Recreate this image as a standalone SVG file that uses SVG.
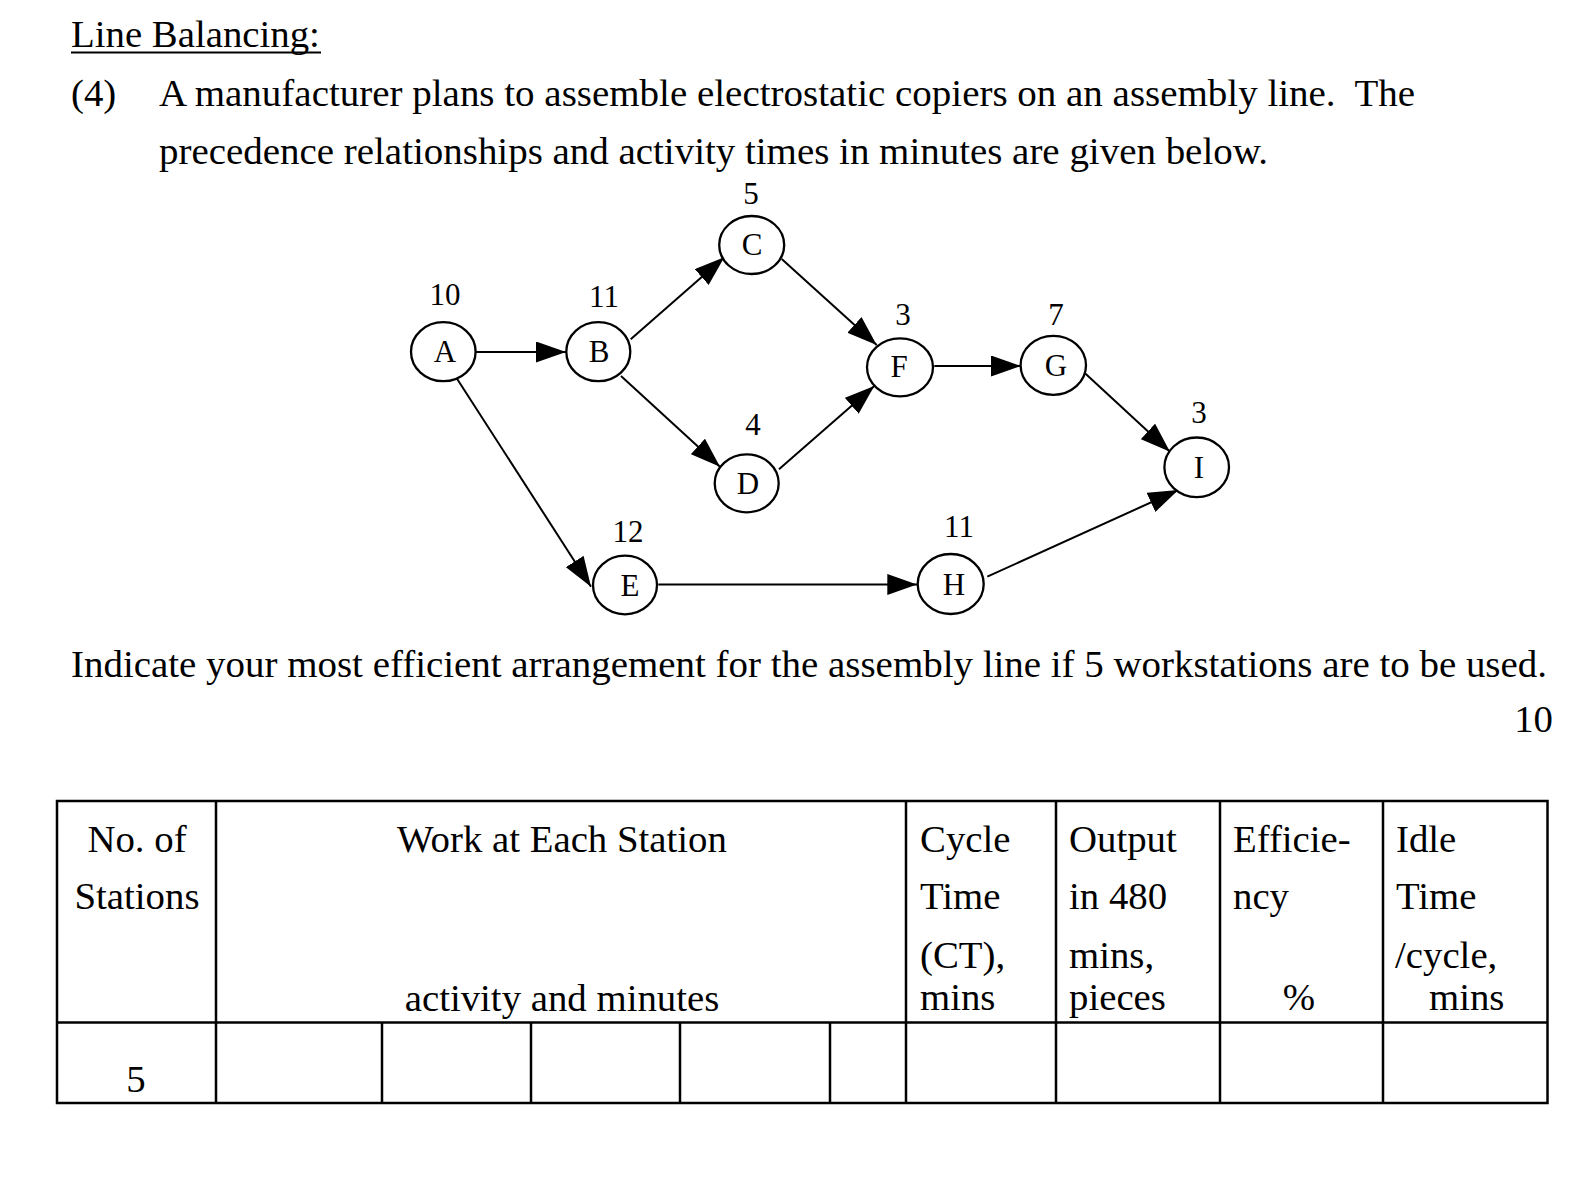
<svg xmlns="http://www.w3.org/2000/svg" width="1588" height="1186" viewBox="0 0 1588 1186">
<defs>
<style>
text { font-family: "Liberation Serif", "Times New Roman", serif; fill: #000; }
.t { font-size: 38.8px; }
.n { font-size: 31px; text-anchor: middle; }
.c { text-anchor: middle; }
.node ellipse { fill: #fff; stroke: #000; stroke-width: 2.3; }
.edge { stroke: #000; stroke-width: 2; fill: none; marker-end: url(#ah); }
.grid { stroke: #000; stroke-width: 2.5; fill: none; }
</style>
<marker id="ah" markerUnits="userSpaceOnUse" viewBox="0 0 30 21" markerWidth="30" markerHeight="21" refX="30" refY="10.5" orient="auto">
<path d="M0,0 L30,10.5 L0,21 z" fill="#000"/>
</marker>
</defs>
<rect width="1588" height="1186" fill="#fff"/>

<g id="header-text">
<text class="t" x="71" y="47">Line Balancing:</text>
<line x1="71" y1="52.5" x2="321" y2="52.5" stroke="#000" stroke-width="2"/>
<text class="t" x="71" y="106">(4)</text>
<text class="t" x="159" y="106" textLength="1256" lengthAdjust="spacingAndGlyphs" xml:space="preserve">A manufacturer plans to assemble electrostatic copiers on an assembly line.  The</text>
<text class="t" x="159" y="164" textLength="1109" lengthAdjust="spacingAndGlyphs">precedence relationships and activity times in minutes are given below.</text>
</g>

<g id="connectors">
<line class="edge" x1="476" y1="352" x2="566" y2="352"/>
<line class="edge" x1="630.7" y1="339.3" x2="724.3" y2="257.3"/>
<line class="edge" x1="621" y1="376" x2="720" y2="466.7"/>
<line class="edge" x1="781.7" y1="259" x2="876.7" y2="345"/>
<line class="edge" x1="779" y1="469.3" x2="874.3" y2="386"/>
<line class="edge" x1="456.7" y1="378.3" x2="591" y2="586.7"/>
<line class="edge" x1="658.3" y1="584.5" x2="917.3" y2="584.5"/>
<line class="edge" x1="934.3" y1="366" x2="1021" y2="366"/>
<line class="edge" x1="1085" y1="373.3" x2="1170" y2="451.7"/>
<line class="edge" x1="987.3" y1="576.7" x2="1178.3" y2="490"/>
</g>

<g id="node-A" class="node"><ellipse cx="443.3" cy="351.7" rx="32.3" ry="29.5"/><text class="n" x="445" y="362">A</text><text class="n" x="445" y="305">10</text></g>
<g id="node-B" class="node"><ellipse cx="598.3" cy="351.7" rx="32" ry="29.5"/><text class="n" x="599" y="362">B</text><text class="n" x="604" y="307">11</text></g>
<g id="node-C" class="node"><ellipse cx="751.7" cy="245" rx="32.5" ry="29"/><text class="n" x="752" y="255">C</text><text class="n" x="751" y="204">5</text></g>
<g id="node-D" class="node"><ellipse cx="746.7" cy="483.3" rx="32" ry="29"/><text class="n" x="748" y="494">D</text><text class="n" x="753" y="435">4</text></g>
<g id="node-E" class="node"><ellipse cx="625" cy="585" rx="32" ry="29.3"/><text class="n" x="630" y="596">E</text><text class="n" x="628" y="542">12</text></g>
<g id="node-F" class="node"><ellipse cx="900" cy="367.3" rx="33" ry="29"/><text class="n" x="899" y="377">F</text><text class="n" x="903" y="325">3</text></g>
<g id="node-G" class="node"><ellipse cx="1053.3" cy="365.3" rx="32.7" ry="29.5"/><text class="n" x="1056" y="376">G</text><text class="n" x="1056" y="325">7</text></g>
<g id="node-H" class="node"><ellipse cx="950.7" cy="584" rx="33" ry="30"/><text class="n" x="954" y="595">H</text><text class="n" x="959" y="537">11</text></g>
<g id="node-I" class="node"><ellipse cx="1196.7" cy="467.3" rx="32.3" ry="29.8"/><text class="n" x="1199" y="478">I</text><text class="n" x="1199" y="423">3</text></g>

<g id="question">
<text class="t" x="71" y="677" textLength="1476" lengthAdjust="spacingAndGlyphs">Indicate your most efficient arrangement for the assembly line if 5 workstations are to be used.</text>
<text class="t" x="1553" y="732" text-anchor="end">10</text>
</g>

<g id="table">
<rect class="grid" x="57" y="801" width="1490.5" height="302"/>
<line class="grid" x1="57" y1="1022.5" x2="1547.5" y2="1022.5"/>
<line class="grid" x1="216" y1="801" x2="216" y2="1103"/>
<line class="grid" x1="906" y1="801" x2="906" y2="1103"/>
<line class="grid" x1="1056" y1="801" x2="1056" y2="1103"/>
<line class="grid" x1="1220" y1="801" x2="1220" y2="1103"/>
<line class="grid" x1="1383" y1="801" x2="1383" y2="1103"/>
<line class="grid" x1="382" y1="1022.5" x2="382" y2="1103"/>
<line class="grid" x1="531" y1="1022.5" x2="531" y2="1103"/>
<line class="grid" x1="680" y1="1022.5" x2="680" y2="1103"/>
<line class="grid" x1="830" y1="1022.5" x2="830" y2="1103"/>

<text class="t c" x="137" y="852">No. of</text>
<text class="t c" x="137" y="909">Stations</text>
<text class="t c" x="136" y="1092">5</text>
<text class="t c" x="562" y="852">Work at Each Station</text>
<text class="t c" x="562" y="1011">activity and minutes</text>
<text class="t" x="920" y="852">Cycle</text>
<text class="t" x="920" y="909">Time</text>
<text class="t" x="920" y="968">(CT),</text>
<text class="t" x="920" y="1010">mins</text>
<text class="t" x="1069" y="852">Output</text>
<text class="t" x="1069" y="909">in 480</text>
<text class="t" x="1069" y="968">mins,</text>
<text class="t" x="1069" y="1010">pieces</text>
<text class="t" x="1233" y="852">Efficie-</text>
<text class="t" x="1233" y="909">ncy</text>
<text class="t c" x="1299" y="1010">%</text>
<text class="t" x="1396" y="852">Idle</text>
<text class="t" x="1396" y="909">Time</text>
<text class="t" x="1395" y="968">/cycle,</text>
<text class="t" x="1429" y="1010">mins</text>
</g>
</svg>
